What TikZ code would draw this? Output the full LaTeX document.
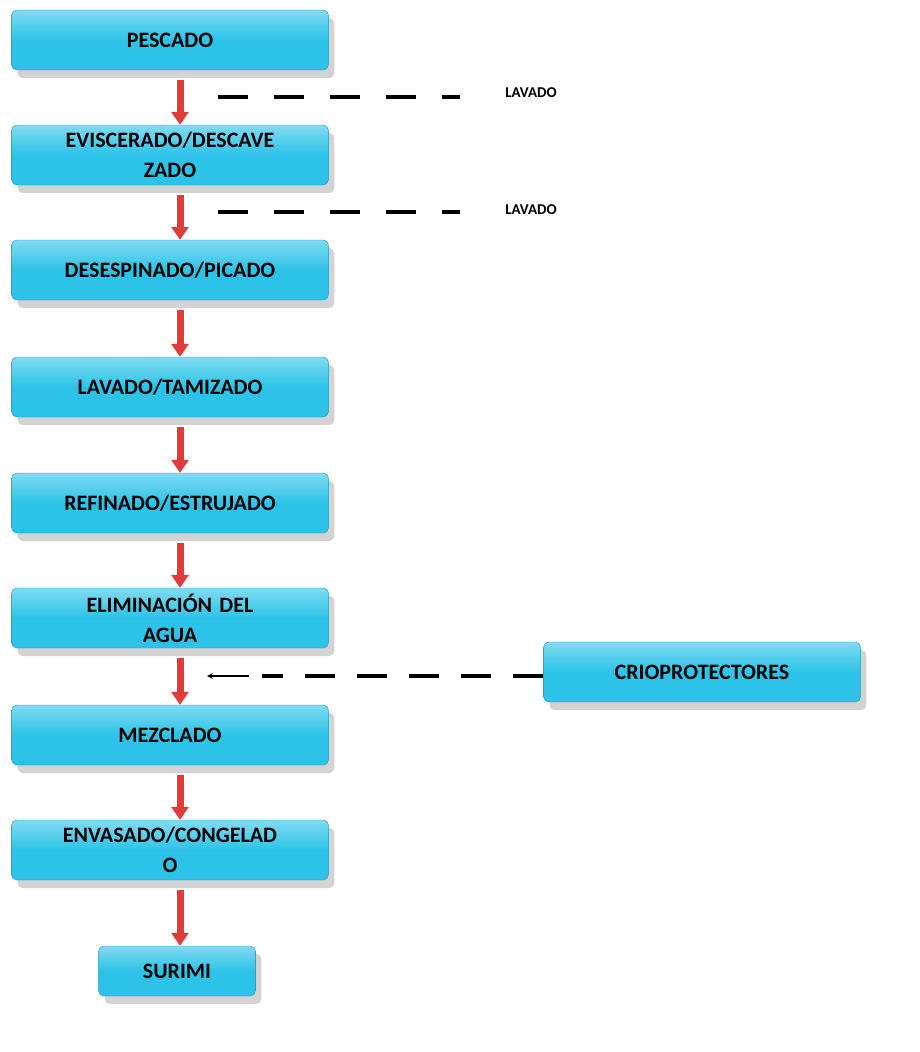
\documentclass[tikz,border=0pt]{standalone}
\usepackage{fontspec}
\setmainfont{Carlito}
\usetikzlibrary{positioning,arrows.meta,shadows}
\definecolor{boxcyan}{RGB}{45,195,232}
\definecolor{boxedge}{RGB}{20,150,190}
\definecolor{arrred}{RGB}{225,60,60}
\tikzset{>=stealth}
\tikzset{
  stage/.style={draw=boxedge,top color=boxcyan!60!white,bottom color=boxcyan,middle color=boxcyan,
    rounded corners=5pt,minimum height=60pt,text width=310pt,align=center,
    font=\bfseries\fontsize{22}{30}\selectfont,drop shadow={shadow xshift=6pt,shadow yshift=-8pt,opacity=.35}},
  flow/.style={draw=arrred,line width=7pt,-{Triangle[width=17pt,length=13pt]}},
  side/.style={dashed,line width=3.5pt,dash pattern=on 30pt off 26pt},
  tag/.style={font=\bfseries\fontsize{15}{18}\selectfont}
}
\begin{document}
\begin{tikzpicture}[x=1pt,y=-1pt]
\useasboundingbox (0,0) rectangle (919,1052);
\node[stage] (pes) at (170,40) {PESCADO};
\node[stage] (evi) at (170,155) {EVISCERADO/DESCAVE\\ZADO};
\node[stage] (des) at (170,270) {DESESPINADO/PICADO};
\node[stage] (lav) at (170,387) {LAVADO/TAMIZADO};
\node[stage] (ref) at (170,503) {REFINADO/ESTRUJADO};
\node[stage] (eli) at (170,618) {ELIMINACIÓN DEL\\AGUA};
\node[stage] (mez) at (170,735) {MEZCLADO};
\node[stage] (env) at (170,850) {ENVASADO/CONGELAD\\O};
\node[stage,text width=150pt,minimum height=50pt] (sur) at (177,971) {SURIMI};
\node[stage,text width=310pt] (cri) at (702,672) {CRIOPROTECTORES};
\node[tag] (l1) at (531,93) {LAVADO};
\node[tag] (l2) at (531,210) {LAVADO};
\foreach \a/\b in {pes/evi,evi/des,des/lav,lav/ref,ref/eli,eli/mez,mez/env,env/sur}
  \draw[flow] (\a.south -| 180,0) ++(0,10) -- (\b.north -| 180,0);
\coordinate (d1) at (218,97);
\coordinate (d2) at (218,212);
\draw[side] (d1) -- (d1 -| 460,0);
\draw[side] (d2) -- (d2 -| 460,0);
\coordinate (c1) at (207,676);
\draw[side,dash pattern=on 30pt off 22pt] (cri.west |- c1) -- ([xshift=55pt]c1);
\draw[->,line width=1.5pt] ([xshift=42pt]c1) -- (c1);
\end{tikzpicture}
\end{document}
